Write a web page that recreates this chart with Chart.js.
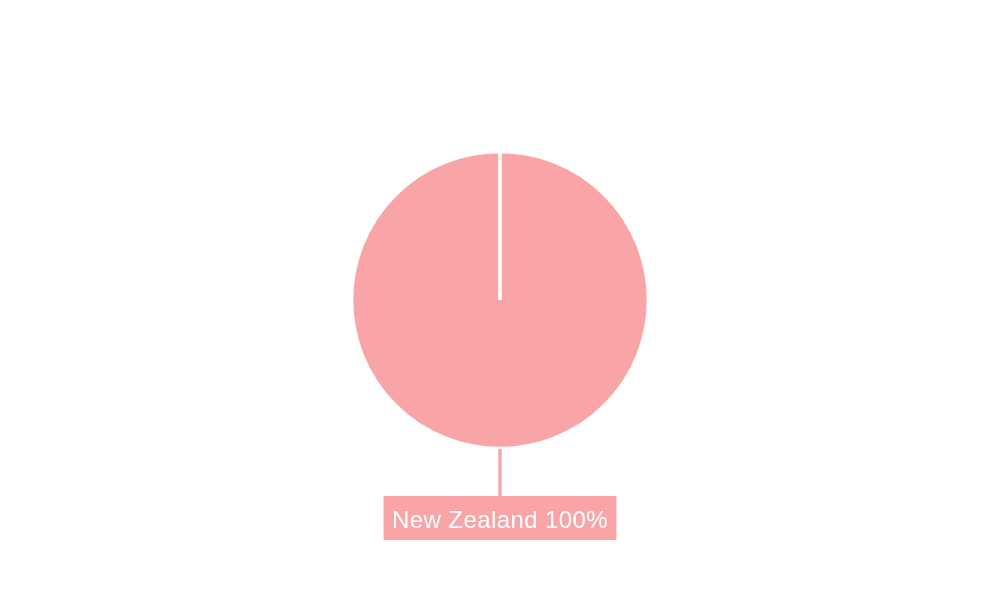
<!DOCTYPE html>
<html>
<head>
<meta charset="utf-8">
<script src="https://cdn.jsdelivr.net/npm/chart.js@4/dist/chart.umd.min.js"></script>
<style>
html,body{margin:0;padding:0;background:#fff;}
#wrap{width:1000px;height:600px;position:relative;}
</style>
</head>
<body>
<div id="wrap"><canvas id="c" width="1000" height="600"></canvas></div>
<script>
const categories = ["New Zealand"];
const values = [100];
const colors = ["#F9A5A7"];

const labelPlugin = {
  id: 'leaderLabels',
  afterDraw(chart) {
    const ctx = chart.ctx;
    const meta = chart.getDatasetMeta(0);
    const total = values.reduce((a, b) => a + b, 0);
    meta.data.forEach((arc, i) => {
      const cx = arc.x, cy = arc.y, r = arc.outerRadius;
      const lineStart = cy + r + 0.5;
      const boxTop = 496;
      const text = categories[i] + ' ' + Math.round(values[i] / total * 100) + '%';
      ctx.save();
      ctx.font = '24px "Liberation Sans", Arial, sans-serif';
      ctx.letterSpacing = '0.4px';
      const tw = ctx.measureText(text).width;
      const padX = 8.5, boxH = 44;
      ctx.strokeStyle = colors[i];
      ctx.lineWidth = 3.4;
      ctx.beginPath();
      ctx.moveTo(cx, lineStart);
      ctx.lineTo(cx, boxTop);
      ctx.stroke();
      ctx.fillStyle = colors[i];
      ctx.fillRect(cx - tw / 2 - padX, boxTop, tw + padX * 2, boxH);
      ctx.fillStyle = '#ffffff';
      ctx.textAlign = 'center';
      ctx.textBaseline = 'middle';
      ctx.fillText(text, cx, boxTop + boxH / 2 + 3);
      ctx.restore();
    });
  }
};

new Chart(document.getElementById('c'), {
  type: 'pie',
  data: {
    labels: categories,
    datasets: [{
      data: values,
      backgroundColor: colors,
      borderColor: '#ffffff',
      borderWidth: 3.6
    }]
  },
  options: {
    responsive: false,
    animation: false,
    layout: { padding: { top: 149.7, bottom: 149.7 } },
    plugins: {
      legend: { display: false },
      tooltip: { enabled: false },
      title: { display: false }
    }
  },
  plugins: [labelPlugin]
});
</script>
</body>
</html>
